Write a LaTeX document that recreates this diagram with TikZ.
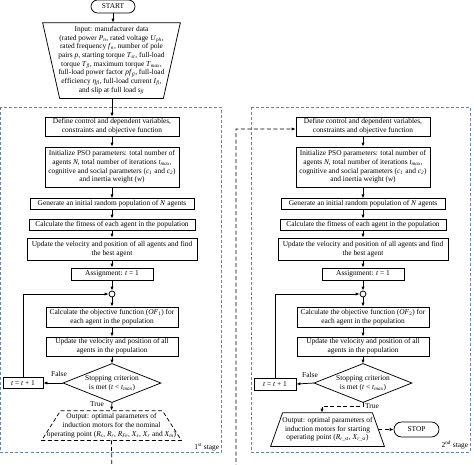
\documentclass[tikz,border=0pt]{standalone}
\usepackage{fontspec}
\setmainfont{Liberation Serif}
\usetikzlibrary{arrows.meta}
\newcommand{\iv}[2]{\textit{#1}\textsubscript{\textit{#2}}}
\definecolor{stagecol}{RGB}{105,130,170}
\begin{document}
\begin{tikzpicture}[x=1pt,y=-1pt,
  font=\fontsize{7.4}{8.7}\selectfont,
  line width=0.75pt,
  arr/.style={-{Latex[length=4pt,width=3.2pt]}},
  pbox/.style={draw, rectangle, align=center, inner sep=0pt},
  ghost/.style={rectangle, align=center, inner sep=0pt},
  stage/.style={draw=stagecol, dash pattern=on 3pt off 2pt, line width=0.6pt},
  dconn/.style={dash pattern=on 4pt off 2.5pt},
  term/.style={draw, rectangle, inner sep=0pt, align=center},
  lbl/.style={inner sep=0pt}
]
\path[use as bounding box] (0,0) rectangle (474,464);
\clip (0,0) rectangle (474,464);

% stage frames
\draw[stage] (0.5,107) rectangle (221,452);
\draw[stage] (251,107) rectangle (470,452);
\node[lbl, anchor=east] (st1) at (219.5,447) {1\textsuperscript{st} stage};
\node[lbl, anchor=east] (st2) at (468.5,445) {2\textsuperscript{nd} stage};

% ---------- column 1 ----------
\node[term, rounded corners=6.5pt, minimum width=44pt, minimum height=13pt] (start) at (113,6.5) {START};
\node[ghost, minimum width=137pt, minimum height=75pt] (inp) at (111.5,60.5)
 {Input: manufacturer data\\
  (rated power \iv{P}{n}, rated voltage \iv{U}{ph},\\
  rated frequency \iv{f}{n}, number of pole\\
  pairs \textit{p}, starting torque \iv{T}{st}, full-load\\
  torque \iv{T}{fl}, maximum torque \iv{T}{max},\\
  full-load power factor \textit{pf}\textsubscript{\textit{fl}}, full-load\\
  efficiency \iv{η}{fl}, full-load current \iv{I}{fl},\\
  and slip at full load \iv{s}{fl}};
\draw (inp.north west) -- (inp.north east) -- ([xshift=-17pt]inp.south east) -- ([xshift=17pt]inp.south west) -- cycle;

\node[pbox, minimum width=134pt, minimum height=19pt] (def1) at (112,126.5)
 {Define control and dependent variables,\\constraints and objective function};
\node[pbox, minimum width=134pt, minimum height=40pt] (init1) at (112,167)
 {Initialize PSO parameters: total number of\\agents \textit{N}, total number of iterations \iv{t}{max},\\cognitive and social parameters (\iv{c}{1} and \iv{c}{2})\\and inertia weight (\textit{w})};
\node[pbox, minimum width=164pt, minimum height=10.5pt] (gen1) at (112,204)
 {Generate an initial random population of \textit{N} agents};
\node[pbox, minimum width=166pt, minimum height=11pt] (fit1) at (112,224.5)
 {Calculate the fitness of each agent in the population};
\node[pbox, minimum width=170pt, minimum height=22pt] (upd1) at (112,249)
 {Update the velocity and position of all agents and find\\the best agent};
\node[pbox, minimum width=82pt, minimum height=12pt] (asg1) at (112,274)
 {Assignment: \textit{t} = 1};
\node[draw, circle, minimum size=6pt, inner sep=0pt] (j1) at (112,294) {};
\node[pbox, minimum width=132pt, minimum height=20pt] (of1) at (112,317)
 {Calculate the objective function (\textit{OF}\textsubscript{1}) for\\each agent in the population};
\node[pbox, minimum width=132pt, minimum height=19pt] (upb1) at (112,346.5)
 {Update the velocity and position of all\\agents in the population};
\node[ghost, minimum width=97pt, minimum height=38pt] (dia1) at (112,383)
 {Stopping criterion\\is met (\textit{t} < \iv{t}{max})};
\draw (dia1.north) -- (dia1.east) -- (dia1.south) -- (dia1.west) -- cycle;
\node[pbox, minimum width=40pt, minimum height=11pt] (t1) at (23,383) {\textit{t} = \textit{t} + 1};
\node[ghost, minimum width=139pt, minimum height=29pt] (out1) at (111.5,425.5)
 {Output: optimal parameters of\\induction motors for the nominal\\operating point (\iv{R}{s}, \iv{R}{r}, \iv{R}{Fe}, \iv{X}{s}, \iv{X}{r} and \iv{X}{m})};
\draw[dconn] ([xshift=19pt]out1.north west) -- ([xshift=-19pt]out1.north east) -- (out1.south east) -- (out1.south west) -- cycle;

\draw[arr] (start.south) -- (start.south |- inp.north);
\draw[arr] (def1.south |- inp.south) -- (def1.north);
\draw[arr] (def1.south) -- (init1.north);
\draw[arr] (init1.south) -- (gen1.north);
\draw[arr] (gen1.south) -- (fit1.north);
\draw[arr] (fit1.south) -- (upd1.north);
\draw[arr] (upd1.south) -- (asg1.north);
\draw[arr] (asg1.south) -- (j1.north);
\draw[arr] (j1.south) -- (of1.north);
\draw[arr] (of1.south) -- (upb1.north);
\draw[arr] (upb1.south) -- (dia1.north);
\draw[arr] (dia1.west) -- (t1.east);
\draw[arr] (t1.north) |- (j1.west);
\draw[arr] (dia1.south) -- (out1.north);
\node[lbl] (f1) at (59,374) {False};
\node[lbl] (tr1) at (97,404) {True};

% ---------- column 2 ----------
\node[pbox, minimum width=134pt, minimum height=19pt] (def2) at (363,126.5)
 {Define control and dependent variables,\\constraints and objective function};
\node[pbox, minimum width=134pt, minimum height=40pt] (init2) at (363,167)
 {Initialize PSO parameters: total number of\\agents \textit{N}, total number of iterations \iv{t}{max},\\cognitive and social parameters (\iv{c}{1} and \iv{c}{2})\\and inertia weight (\textit{w})};
\node[pbox, minimum width=164pt, minimum height=10.5pt] (gen2) at (363,204)
 {Generate an initial random population of \textit{N} agents};
\node[pbox, minimum width=166pt, minimum height=11pt] (fit2) at (363,224.5)
 {Calculate the fitness of each agent in the population};
\node[pbox, minimum width=170pt, minimum height=22pt] (upd2) at (363,249)
 {Update the velocity and position of all agents and find\\the best agent};
\node[pbox, minimum width=82pt, minimum height=12pt] (asg2) at (363,274)
 {Assignment: \textit{t} = 1};
\node[draw, circle, minimum size=6pt, inner sep=0pt] (j2) at (363,294) {};
\node[pbox, minimum width=132pt, minimum height=20pt] (of2) at (363,317)
 {Calculate the objective function (\textit{OF}\textsubscript{2}) for\\each agent in the population};
\node[pbox, minimum width=132pt, minimum height=19pt] (upb2) at (363,346.5)
 {Update the velocity and position of all\\agents in the population};
\node[ghost, minimum width=97pt, minimum height=38pt] (dia2) at (363,383)
 {Stopping criterion\\is met (\textit{t} < \iv{t}{max})};
\draw (dia2.north) -- (dia2.east) -- (dia2.south) -- (dia2.west) -- cycle;
\node[pbox, minimum width=42pt, minimum height=12pt] (t2) at (275,384) {\textit{t} = \textit{t} + 1};
\node[ghost, minimum width=113pt, minimum height=33pt] (out2) at (327.5,429.5)
 {Output: optimal parameters of\\induction motors for starting\\operating point (\iv{R}{r\_st}, \iv{X}{r\_st})};
\draw ([xshift=12pt]out2.north west) -- ([xshift=-12pt]out2.north east) -- (out2.south east) -- (out2.south west) -- cycle;
\node[term, rounded corners=7.5pt, minimum width=45pt, minimum height=15pt] (stop) at (416.5,429.5) {STOP};

\draw[arr] (def2.south) -- (init2.north);
\draw[arr] (init2.south) -- (gen2.north);
\draw[arr] (gen2.south) -- (fit2.north);
\draw[arr] (fit2.south) -- (upd2.north);
\draw[arr] (upd2.south) -- (asg2.north);
\draw[arr] (asg2.south) -- (j2.north);
\draw[arr] (j2.south) -- (of2.north);
\draw[arr] (of2.south) -- (upb2.north);
\draw[arr] (upb2.south) -- (dia2.north);
\draw[arr] (dia2.west) -- (t2.east);
\draw[arr] (t2.north) |- (j2.west);
\node[lbl] (f2) at (310,375) {False};
\node[lbl] (tr2) at (372,406) {True};
\coordinate (c2) at (322,406);
\draw[dconn,arr] (dia2.south) |- (c2) -- (c2 |- out2.north);
\draw[dconn,arr] ([xshift=-6pt]out2.east) -- (stop.west);

% stage link
\coordinate (b1) at (112,490);
\coordinate (k) at (236,129);
\draw[dconn,arr] (out1.south) -- (b1) -| (k) -- (def2.west |- k);
\end{tikzpicture}
\end{document}
